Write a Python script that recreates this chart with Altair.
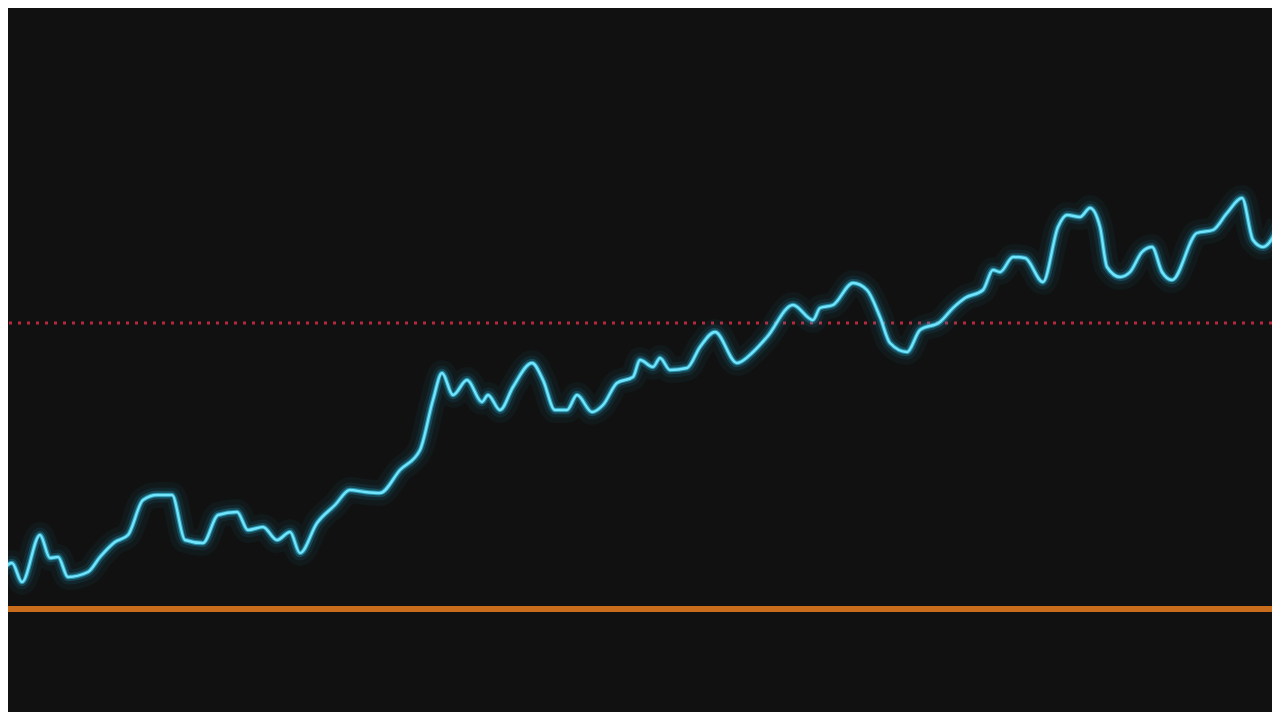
import altair as alt
import pandas as pd

# Signal trace (x position, level)
xs = [0, 12, 22, 40, 50, 58, 68, 88, 100, 115, 128, 143, 157, 172, 185, 203, 218, 237, 248, 263,
      277, 290, 300, 317, 335, 350, 365, 380, 400, 420, 433, 442, 453, 467, 482, 488, 500, 513,
      532, 543, 555, 567, 577, 592, 603, 617, 633, 640, 653, 660, 670, 687, 700, 715, 737, 753,
      767, 793, 813, 820, 833, 853, 867, 880, 890, 907, 920, 940, 953, 965, 983, 993, 1000, 1013,
      1025, 1043, 1058, 1067, 1080, 1090, 1100, 1107, 1120, 1130, 1142, 1152, 1162, 1172, 1197,
      1213, 1227, 1242, 1253, 1263, 1280]
py = [573, 563, 582, 535, 558, 557, 577, 572, 557, 542, 535, 500, 495, 495, 540, 543, 515, 512, 530, 527,
      540, 532, 553, 523, 505, 490, 492, 493, 470, 450, 400, 373, 395, 380, 402, 395, 410, 387,
      363, 380, 410, 410, 395, 412, 405, 383, 377, 360, 367, 358, 370, 368, 347, 332, 363, 352,
      337, 305, 320, 308, 305, 283, 290, 317, 343, 352, 330, 322, 308, 298, 290, 270, 272, 257,
      258, 282, 227, 215, 217, 208, 227, 267, 277, 272, 252, 247, 272, 280, 233,
      230, 213, 198, 240, 247, 223]
levels = [720 - v for v in py]

threshold_level = [720 - 323]   # red dotted line
baseline_level = [720 - 609]    # orange line

df = pd.DataFrame({"x": xs, "v": levels})
xsc = alt.Scale(domain=[8, 1272], nice=False, zero=False)
ysc = alt.Scale(domain=[8, 712], nice=False, zero=False)
X = alt.X("x:Q", scale=xsc, axis=None)
Y = alt.Y("v:Q", scale=ysc, axis=None)

base = alt.Chart(df)
glows = []
for w, op, col in [(26, 0.05, "#1aa8d8"), (15, 0.09, "#1fb8e6"), (8.5, 0.2, "#2cc6f0"), (4.5, 0.55, "#38d2f6")]:
    glows.append(base.mark_line(strokeWidth=w, opacity=op, color=col, interpolate="monotone",
                                strokeCap="butt", strokeJoin="round", clip=True).encode(x=X, y=Y))
core = base.mark_line(strokeWidth=2.4, color="#72e4fc", interpolate="monotone",
                      strokeCap="butt", strokeJoin="round", clip=True).encode(x=X, y=Y)

red = alt.Chart(pd.DataFrame({"v": threshold_level})).mark_rule(
    color="#b8283c", strokeWidth=3, strokeDash=[3, 6], clip=True).encode(y=alt.Y("v:Q", scale=ysc, axis=None))
orange = alt.Chart(pd.DataFrame({"v": baseline_level})).mark_rule(
    color="#c96d1c", strokeWidth=6, clip=True).encode(y=alt.Y("v:Q", scale=ysc, axis=None))

chart = alt.layer(red, orange, *glows, core).properties(
    width=1264, height=704,
    autosize=alt.AutoSizeParams(type="fit", contains="padding"),
    padding=0, background="#111111",
).configure_view(stroke=None, fill="#111111")

chart.save("out.html", embed_options={"renderer": "svg", "actions": False})
